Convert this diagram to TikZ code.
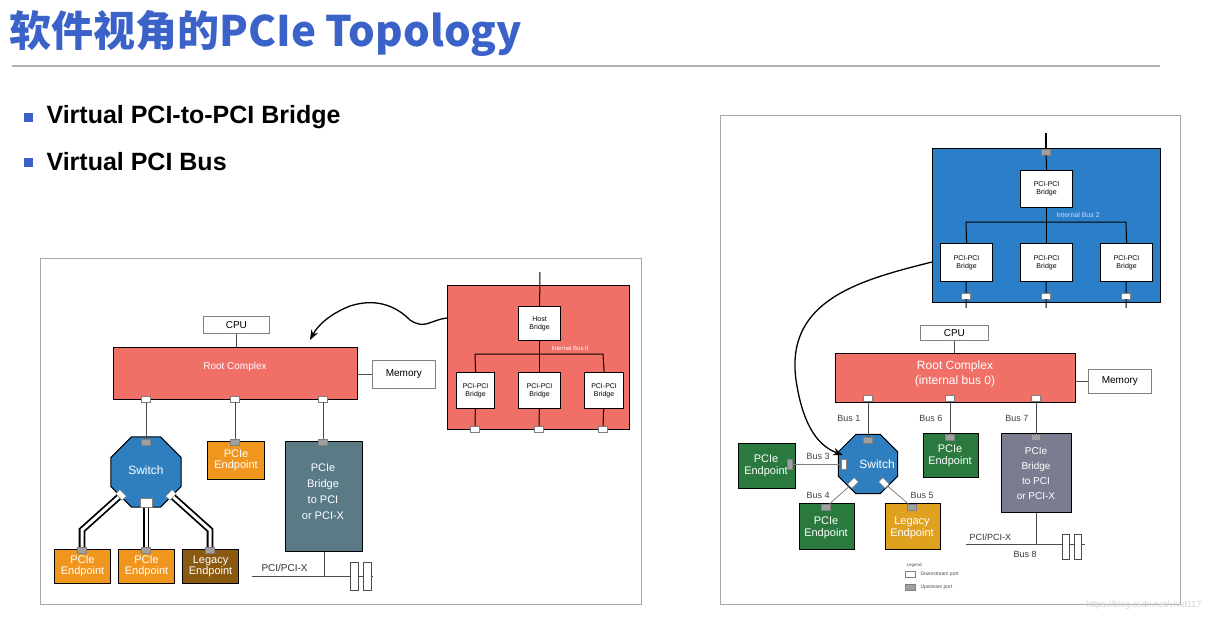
\documentclass[tikz,border=0pt]{standalone}
\usepackage{fontspec}
\setmainfont{Liberation Sans}
\newfontfamily\cjk{Noto Sans CJK SC}
\usetikzlibrary{shapes.geometric,arrows.meta,decorations.pathmorphing}
\definecolor{salmon}{HTML}{F07068}
\definecolor{tblue}{HTML}{3A62C8}
\definecolor{swblue}{HTML}{2F7FC0}
\definecolor{bblue}{HTML}{2A7FC8}
\definecolor{eorange}{HTML}{F0961E}
\definecolor{lorange}{HTML}{E0A020}
\definecolor{lbrown}{HTML}{8A5A10}
\definecolor{egreen}{HTML}{2A7A40}
\definecolor{bteal}{HTML}{5A7A86}
\definecolor{bgray}{HTML}{7A7D90}
\definecolor{pgray}{HTML}{A0A0A0}
\begin{document}
\begin{tikzpicture}[x=1pt,y=-1pt,
 box/.style={draw=black,line width=1.2pt,inner sep=0pt,anchor=north west},
 wbox/.style={draw=gray,fill=white,line width=0.8pt,inner sep=0pt,anchor=north west,font=\fontsize{10}{11}\selectfont},
 br/.style={box,fill=white,font=\fontsize{7}{8}\selectfont,align=center},
 dp/.style={draw=gray,fill=white,minimum width=9pt,minimum height=6pt,inner sep=0pt},
 up/.style={draw=gray,fill=pgray,minimum width=9pt,minimum height=6pt,inner sep=0pt},
 wt/.style={text=white,align=center},
 ln/.style={draw=gray!60!black,line width=1pt},
 bl/.style={font=\fontsize{9}{10}\selectfont,text=gray!50!black}]
\useasboundingbox (0,0) rectangle (1211,625);
% title
\node[anchor=west,text=tblue,font=\cjk\bfseries\fontsize{42}{44}\selectfont] (title) at (6,33) {软件视角的PCIe Topology};
\draw[gray!60,line width=1.5pt] (12,66) -- (1160,66);
\fill[tblue] (24,113) rectangle (33,122);
\fill[tblue] (24,158) rectangle (33,167);
\node[anchor=west,font=\bfseries\fontsize{25}{27}\selectfont] (b1) at (43,117) {Virtual PCI-to-PCI Bridge};
\node[anchor=west,font=\bfseries\fontsize{25}{27}\selectfont] (b2) at (43,162) {Virtual PCI Bus};
% panels
\draw[gray!70] (40,258) rectangle (641,604);
\draw[gray!70] (720,115) rectangle (1180,604);

%%%% LEFT
\node[wbox,minimum width=66pt,minimum height=17pt] (cpu) at (203,316) {};
\node[font=\fontsize{10}{11}\selectfont] at (cpu.center) {CPU};
\node[box,fill=salmon,minimum width=244pt,minimum height=52pt] (rc) at (113,347) {};
\node[wt,font=\fontsize{10}{11}\selectfont] at (235,367) {Root Complex};
\node[wbox,minimum width=63pt,minimum height=28pt] (mem) at (372,360) {};
\node[font=\fontsize{10}{11}\selectfont] at (mem.center) {Memory};
\draw[ln] (cpu.south) -- (cpu.south |- rc.north);
\draw[ln] (rc.east |- mem.west) -- (mem.west);
\node[dp] (p1) at (146,399) {};
\node[dp] (p2) at (235,399) {};
\node[dp] (p3) at (323,399) {};
\node[regular polygon,regular polygon sides=8,minimum size=76pt,fill=swblue,draw=black,line width=1pt] (sw) at (146,472) {};
\node[wt,font=\fontsize{12}{13}\selectfont] at (146,470) {Switch};
\node[box,fill=eorange,minimum width=57pt,minimum height=38pt] (ep) at (207,441) {};
\node[wt,font=\fontsize{11}{11}\selectfont] at (ep.center) {PCIe\\Endpoint};
\node[box,fill=bteal,minimum width=77pt,minimum height=110pt] (bri) at (285,441) {};
\node[wt,font=\fontsize{11}{16}\selectfont] at (323,492) {PCIe\\Bridge\\to PCI\\or PCI-X};
\node[up] (u1) at (146,442) {};
\node[up] (u2) at (235,442) {};
\node[up] (u3) at (323,442) {};
\draw[ln] (p1) -- (u1); \draw[ln] (p2) -- (u2); \draw[ln] (p3) -- (u3);
\node[box,fill=eorange,minimum width=56pt,minimum height=34pt] (e1) at (54,549) {};
\node[box,fill=eorange,minimum width=56pt,minimum height=34pt] (e2) at (118,549) {};
\node[box,fill=lbrown,minimum width=56pt,minimum height=34pt] (e3) at (182,549) {};
\node[wt,font=\fontsize{11}{11}\selectfont] at (e1.center) {PCIe\\Endpoint};
\node[wt,font=\fontsize{11}{11}\selectfont] at (e2.center) {PCIe\\Endpoint};
\node[wt,font=\fontsize{11}{11}\selectfont] at (e3.center) {Legacy\\Endpoint};
\node[up] (eu1) at (82,550) {};
\node[up] (eu2) at (146,550) {};
\node[up] (eu3) at (210,550) {};
\node[dp,rotate=-45] (sd1) at (121,495) {};
\node[dp,minimum width=12pt,minimum height=9pt] (sd2) at (146,503) {};
\node[dp,rotate=45] (sd3) at (171,495) {};
\draw[line width=1.8pt,double=white,double distance=3pt] (sd1) -- (82,530) -- (eu1);
\draw[line width=1.8pt,double=white,double distance=3pt] (sd2) -- (eu2);
\draw[line width=1.8pt,double=white,double distance=3pt] (sd3) -- (210,530) -- (eu3);
\coordinate (pl) at (252,576); \coordinate (pr) at (373,576);
\draw[ln] (pl) -- (pr);
\draw[ln] (bri.south) -- (bri.south |- pl);
\node[anchor=south west,font=\fontsize{10}{11}\selectfont,text=gray!40!black] (pcx) at (258,575) {PCI/PCI-X};
\node[draw=gray!60!black,fill=white,minimum width=8pt,minimum height=28pt,inner sep=0pt] (s1) at (354,576) {};
\node[draw=gray!60!black,fill=white,minimum width=8pt,minimum height=28pt,inner sep=0pt] (s2) at (367,576) {};
% host box
\node[box,fill=salmon,minimum width=182pt,minimum height=144pt] (hb) at (447,285) {};
\coordinate (htop) at (540,272);
\node[br,minimum width=42pt,minimum height=34pt] (hbr) at (518,306) {Host\\Bridge};
\draw[ln,draw=black] (htop) -- (hbr.north);
\node[anchor=west,text=white,font=\fontsize{6}{7}\selectfont] at (548,348) {Internal Bus 0};
\node[br,minimum width=38pt,minimum height=36pt] (hp1) at (456,372) {PCI-PCI\\Bridge};
\node[br,minimum width=42pt,minimum height=36pt] (hp2) at (518,372) {PCI-PCI\\Bridge};
\node[br,minimum width=39pt,minimum height=36pt] (hp3) at (584,372) {PCI-PCI\\Bridge};
\draw[black,line width=1pt] (hbr.south) -- (hp2.north);
\draw[black,line width=1pt] (hp1.north) -- (475,354) -- (603,354) -- (hp3.north);
\node[dp] (hd1) at (475,429) {};
\node[dp] (hd2) at (539,429) {};
\node[dp] (hd3) at (603,429) {};
\draw[black,line width=1pt] (hp1) -- (hd1); \draw[black,line width=1pt] (hp2) -- (hd2); \draw[black,line width=1pt] (hp3) -- (hd3);
\draw[line width=1.3pt,-{Stealth[length=10pt]}] (hb.west |- 0,318) .. controls (430,320) and (425,330) .. (410,320) .. controls (395,305) and (375,298) .. (350,306) .. controls (330,314) and (318,325) .. (310,340);

%%%% RIGHT
\node[box,fill=bblue,minimum width=228pt,minimum height=154pt] (blb) at (932,148) {};
\coordinate (btop) at (1046,133);
\node[up] (bu) at (1046,152) {};
\draw[black,line width=1.2pt] (btop) -- (bu);
\node[br,minimum width=52pt,minimum height=37pt] (tb) at (1020,170) {PCI-PCI\\Bridge};
\draw[black,line width=1pt] (bu) -- (tb.north);
\node[anchor=west,text=white!85!blue,font=\fontsize{7}{8}\selectfont] at (1053,215) {Internal Bus 2};
\node[br,minimum width=52pt,minimum height=38pt] (q1) at (940,243) {PCI-PCI\\Bridge};
\node[br,minimum width=52pt,minimum height=38pt] (q2) at (1020,243) {PCI-PCI\\Bridge};
\node[br,minimum width=52pt,minimum height=38pt] (q3) at (1100,243) {PCI-PCI\\Bridge};
\draw[black,line width=1pt] (tb.south) -- (q2.north);
\draw[black,line width=1pt] (q1.north) -- (966,222) -- (1126,222) -- (q3.north);
\node[dp] (qd1) at (966,296) {};
\node[dp] (qd2) at (1046,296) {};
\node[dp] (qd3) at (1126,296) {};
\coordinate (qe1) at (966,308); \coordinate (qe2) at (1046,308); \coordinate (qe3) at (1126,308);
\draw[black,line width=1pt] (q1) -- (qd1) -- (qe1); \draw[black,line width=1pt] (q2) -- (qd2) -- (qe2); \draw[black,line width=1pt] (q3) -- (qd3) -- (qe3);
\node[wbox,minimum width=68pt,minimum height=15pt] (cpu2) at (920,325) {};
\node[font=\fontsize{10}{11}\selectfont] at (cpu2.center) {CPU};
\node[box,fill=salmon,minimum width=240pt,minimum height=49pt] (rc2) at (835,353) {};
\node[wt,font=\fontsize{12}{15}\selectfont] at (955,374) {Root Complex\\(internal bus 0)};
\node[wbox,minimum width=63pt,minimum height=24pt] (mem2) at (1088,369) {};
\node[font=\fontsize{10}{11}\selectfont] at (mem2.center) {Memory};
\draw[ln] (cpu2.south) -- (cpu2.south |- rc2.north);
\draw[ln] (rc2.east |- mem2.west) -- (mem2.west);
\node[dp] (r1) at (868,398) {};
\node[dp] (r2) at (950,398) {};
\node[dp] (r3) at (1036,398) {};
\node[bl,anchor=east] at (864,418) {Bus 1};
\node[bl,anchor=east] at (946,418) {Bus 6};
\node[bl,anchor=east] at (1032,418) {Bus 7};
\node[regular polygon,regular polygon sides=8,minimum size=64pt,fill=swblue,draw=black,line width=1pt] (sw2) at (868,464) {};
\node[wt,font=\fontsize{12}{13}\selectfont] at (877,464) {Switch};
\node[up] (su) at (868,440) {};
\node[dp,minimum width=5pt,minimum height=10pt] (sl) at (844,464) {};
\node[dp,rotate=45] (sbl) at (853,483) {};
\node[dp,rotate=-45] (sbr) at (884,483) {};
\draw[ln] (r1) -- (su);
\node[box,fill=egreen,minimum width=57pt,minimum height=45pt] (g1) at (738,443) {};
\node[wt,font=\fontsize{11}{12}\selectfont] at (766,466) {PCIe\\Endpoint};
\node[up,minimum width=5pt,minimum height=10pt] (g1p) at (790,464) {};
\draw[gray,line width=0.8pt] (g1p) -- (sl);
\node[bl,anchor=south] at (818,463) {Bus 3};
\node[box,fill=egreen,minimum width=55pt,minimum height=44pt] (g2) at (923,433) {};
\node[wt,font=\fontsize{11}{12}\selectfont] at (950,456) {PCIe\\Endpoint};
\node[up] (g2p) at (950,437) {};
\draw[ln] (r2) -- (g2p);
\node[box,fill=bgray,minimum width=70pt,minimum height=79pt] (bri2) at (1001,433) {};
\node[wt,font=\fontsize{10}{15}\selectfont] at (1036,474) {PCIe\\Bridge\\to PCI\\or PCI-X};
\node[up] (b2p) at (1036,437) {};
\draw[ln] (r3) -- (b2p);
\node[box,fill=egreen,minimum width=55pt,minimum height=46pt] (g3) at (799,503) {};
\node[wt,font=\fontsize{11}{12}\selectfont] at (826,528) {PCIe\\Endpoint};
\node[up] (g3p) at (826,507) {};
\node[box,fill=lorange,minimum width=55pt,minimum height=46pt] (lg) at (885,503) {};
\node[wt,font=\fontsize{11}{12}\selectfont] at (912,528) {Legacy\\Endpoint};
\node[up] (lgp) at (912,507) {};
\draw[gray,line width=0.8pt] (sbl) -- (g3p);
\draw[gray,line width=0.8pt] (sbr) -- (lgp);
\node[bl] at (818,495) {Bus 4};
\node[bl] at (922,495) {Bus 5};
\coordinate (pl2) at (966,544); \coordinate (pr2) at (1085,544);
\draw[ln] (pl2) -- (pr2);
\draw[ln] (bri2.south) -- (bri2.south |- pl2);
\node[bl,anchor=south west,text=gray!40!black] at (966,544) {PCI/PCI-X};
\node[bl,text=gray!40!black] at (1025,554) {Bus 8};
\node[draw=gray!60!black,fill=white,minimum width=7pt,minimum height=25pt,inner sep=0pt] (t1) at (1066,547) {};
\node[draw=gray!60!black,fill=white,minimum width=7pt,minimum height=25pt,inner sep=0pt] (t2) at (1078,547) {};
% legend
\node[anchor=west,font=\fontsize{4.5}{5}\selectfont,text=gray!60!black] at (903,565) {Legend};
\node[draw=gray,fill=white,minimum width=10pt,minimum height=6pt,inner sep=0pt] (lg1) at (910,574) {};
\node[anchor=west,font=\fontsize{5}{6}\selectfont,text=gray!60!black] at (917,574) {Downstream port};
\node[draw=gray,fill=pgray,minimum width=10pt,minimum height=6pt,inner sep=0pt] (lg2) at (910,587) {};
\node[anchor=west,font=\fontsize{5}{6}\selectfont,text=gray!60!black] at (917,587) {Upstream port};
\draw[line width=1.3pt,-{Stealth[length=10pt]}] (blb.west |- 0,262) .. controls (860,280) and (785,300) .. (796,380) .. controls (802,420) and (815,445) .. (843,455);
\node[anchor=east,font=\fontsize{9}{10}\selectfont,text=gray!35] at (1205,605) {https://blog.csdn.net/vivid117};
\end{tikzpicture}
\end{document}
